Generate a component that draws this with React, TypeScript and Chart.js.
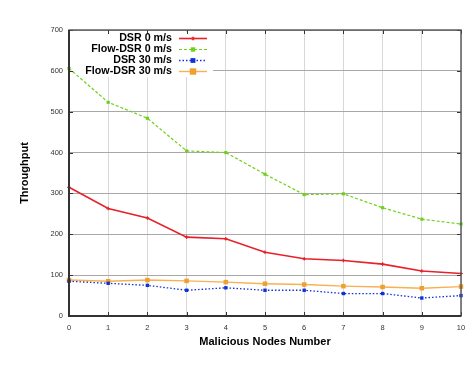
import React, { useEffect, useRef } from "react";
import { Chart, registerables } from "chart.js";

Chart.register(...registerables);

const categories = ["0", "1", "2", "3", "4", "5", "6", "7", "8", "9", "10"];
const dsr0 = [315, 263, 240, 193, 189, 156, 140, 136, 127, 110, 104];
const flowDsr0 = [606, 523, 484, 404, 400, 347, 297, 299, 265, 237, 225];
const dsr30 = [85, 80, 75, 63, 69, 63, 63, 55, 55, 44, 50];
const flowDsr30 = [88, 85, 88, 86, 83, 79, 77, 73, 71, 68, 72];
const yTicks = [0, 100, 200, 300, 400, 500, 600, 700];
const xTitle = "Malicious Nodes Number";
const yTitle = "Throughput";

const FONT = "'Liberation Sans', Arial, Helvetica, sans-serif";

const framePlugin = {
  id: "frame",
  beforeDatasetsDraw(chart: any) {
    const { ctx, chartArea } = chart;
    ctx.save();
    ctx.fillStyle = "#ffffff";
    ctx.fillRect(chartArea.left + 1, chartArea.top + 2, 143, 45);
    ctx.restore();
  },
  afterDraw(chart: any) {
    const { ctx, chartArea, scales } = chart;
    const { left, right, top, bottom } = chartArea;
    ctx.save();
    ctx.strokeStyle = "#333";
    ctx.lineWidth = 1;
    ctx.beginPath();
    yTicks.forEach((v) => {
      const y = Math.round(scales.y.getPixelForValue(v)) + 0.5;
      ctx.moveTo(left, y);
      ctx.lineTo(left + 4, y);
      ctx.moveTo(right, y);
      ctx.lineTo(right - 4, y);
    });
    categories.forEach((_, i) => {
      const x = Math.round(scales.x.getPixelForValue(i)) + 0.5;
      ctx.moveTo(x, bottom);
      ctx.lineTo(x, bottom - 4);
      ctx.moveTo(x, top);
      ctx.lineTo(x, top + 4);
    });
    ctx.stroke();
    ctx.strokeStyle = "#555";
    ctx.lineWidth = 1.4;
    ctx.strokeRect(left, top, right - left, bottom - top);
    ctx.strokeStyle = "#333";
    ctx.lineWidth = 2;
    ctx.beginPath();
    ctx.moveTo(left, top);
    ctx.lineTo(left, bottom);
    ctx.lineTo(right, bottom);
    ctx.stroke();

    const items = chart.data.datasets;
    ctx.font = `bold 10.7px ${FONT}`;
    ctx.textAlign = "right";
    ctx.textBaseline = "middle";
    items.forEach((ds: any, i: number) => {
      const y = 38.5 + i * 11;
      ctx.fillStyle = "#000";
      ctx.fillText(ds.label, 172, y);
      ctx.strokeStyle = ds.borderColor;
      ctx.lineWidth = ds.borderWidth;
      ctx.setLineDash(ds.borderDash || []);
      ctx.beginPath();
      ctx.moveTo(179, y);
      ctx.lineTo(207, y);
      ctx.stroke();
      ctx.setLineDash([]);
      const r = ds.pointRadius;
      ctx.fillStyle = ds.pointBackgroundColor;
      if (ds.pointStyle === "cross") {
        ctx.beginPath();
        ctx.moveTo(193 - r, y);
        ctx.lineTo(193 + r, y);
        ctx.moveTo(193, y - r);
        ctx.lineTo(193, y + r);
        ctx.stroke();
      } else {
        ctx.fillRect(193 - r, y - r, 2 * r, 2 * r);
      }
    });
    ctx.restore();
  },
};

export default function App() {
  const ref = useRef<HTMLCanvasElement>(null);
  useEffect(() => {
    document.body.style.margin = "0";
    const chart = new Chart(ref.current!, {
      type: "line",
      data: {
        labels: categories,
        datasets: [
          {
            label: "DSR 0 m/s",
            data: dsr0,
            borderColor: "#e8202a",
            backgroundColor: "#e8202a",
            pointBackgroundColor: "#e8202a",
            borderWidth: 1.6,
            pointStyle: "cross",
            pointRadius: 1.8,
            pointBorderWidth: 1.2,
            pointBorderColor: "#e8202a",
          } as any,
          {
            label: "Flow-DSR 0 m/s",
            data: flowDsr0,
            borderColor: "#6fd01a",
            backgroundColor: "#6fd01a",
            pointBackgroundColor: "#6fd01a",
            borderWidth: 1.2,
            borderDash: [3, 2],
            pointStyle: "rect",
            pointRadius: 2.2,
            pointBorderWidth: 0,
            pointBorderColor: "#6fd01a",
          },
          {
            label: "DSR 30 m/s",
            data: dsr30,
            borderColor: "#1030d8",
            backgroundColor: "#1030d8",
            pointBackgroundColor: "#1030d8",
            borderWidth: 1.3,
            borderDash: [1.5, 2],
            pointStyle: "rect",
            pointRadius: 2.4,
            pointBorderWidth: 0,
            pointBorderColor: "#1030d8",
          },
          {
            label: "Flow-DSR 30 m/s",
            data: flowDsr30,
            borderColor: "#f8b050",
            backgroundColor: "#f0a030",
            pointBackgroundColor: "#f0a030",
            borderWidth: 1.4,
            pointStyle: "rect",
            pointRadius: 3.2,
            pointBorderWidth: 0,
            pointBorderColor: "#f0a030",
          },
        ],
      },
      options: {
        animation: false,
        responsive: false,
        maintainAspectRatio: false,
        layout: { padding: { left: 0, top: 30, right: 13, bottom: 0 } },
        plugins: { legend: { display: false }, tooltip: { enabled: false } },
        scales: {
          x: {
            type: "category",
            offset: false,
            grid: {
              color: "#d8d8d8",
              lineWidth: 1,
              drawTicks: false,
            },
            border: { display: false },
            ticks: {
              color: "#333",
              font: { family: FONT, size: 7.5 },
              padding: 7,
              maxRotation: 0,
            },
            title: {
              display: true,
              text: xTitle,
              color: "#000",
              font: { family: FONT, size: 11, weight: "bold" },
              padding: { top: 0, bottom: 17 },
            },
            afterFit(scale: any) {
              scale.height = 50;
            },
          },
          y: {
            min: 0,
            max: 700,
            grid: {
              color: "#a8a8a8",
              lineWidth: 1,
              drawTicks: false,
            },
            border: { display: false },
            ticks: {
              stepSize: 100,
              color: "#333",
              font: { family: FONT, size: 7.5 },
              padding: 6,
            },
            title: {
              display: true,
              text: yTitle,
              color: "#000",
              font: { family: FONT, size: 11, weight: "bold" },
              padding: { top: 18, bottom: 0 },
            },
            afterFit(scale: any) {
              scale.width = 69;
            },
          },
        },
      },
      plugins: [framePlugin],
    });
    return () => chart.destroy();
  }, []);
  return (
    <div style={{ width: 474, height: 366 }}>
      <canvas ref={ref} width={474} height={366} style={{ display: "block" }} />
    </div>
  );
}
